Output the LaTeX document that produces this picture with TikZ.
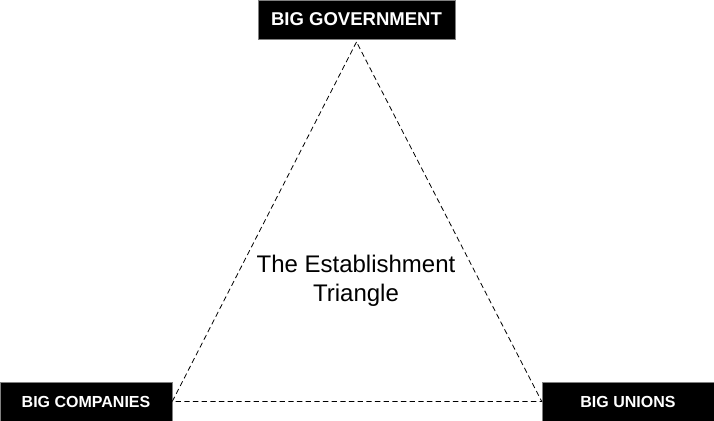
\documentclass[tikz,border=0pt]{standalone}
\usepackage{fontspec}
\setmainfont{Liberation Sans}
\begin{document}
\begin{tikzpicture}[x=0.75pt, y=-0.75pt,
    party/.style={fill=black, draw=gray, text=white, font=\bfseries\fontsize{12}{14}\selectfont,
      minimum height=29.25pt, inner sep=0pt},
    side/.style={line width=0.6pt, dash pattern=on 4pt off 2.5pt}]
    \useasboundingbox (0, 0) rectangle (714, 421) ;
    \node[party, minimum width=147.75pt, font=\bfseries\fontsize{13.9}{16}\selectfont] (gov) at (356.5, 19.5) {BIG GOVERNMENT} ;
    \node[party, minimum width=129pt] (comp) at (86, 401.5) {BIG COMPANIES} ;
    \node[party, minimum width=129pt] (unions) at (628, 401.5) {BIG UNIONS} ;
    \draw[side] ([yshift=-2pt]gov.south) -- (comp.east) -- (unions.west) -- cycle ;
    \node[align=center, font=\fontsize{18}{21.75}\selectfont] (title) at (356, 281) {The Establishment\\Triangle} ;
  \end{tikzpicture}
\end{document}
